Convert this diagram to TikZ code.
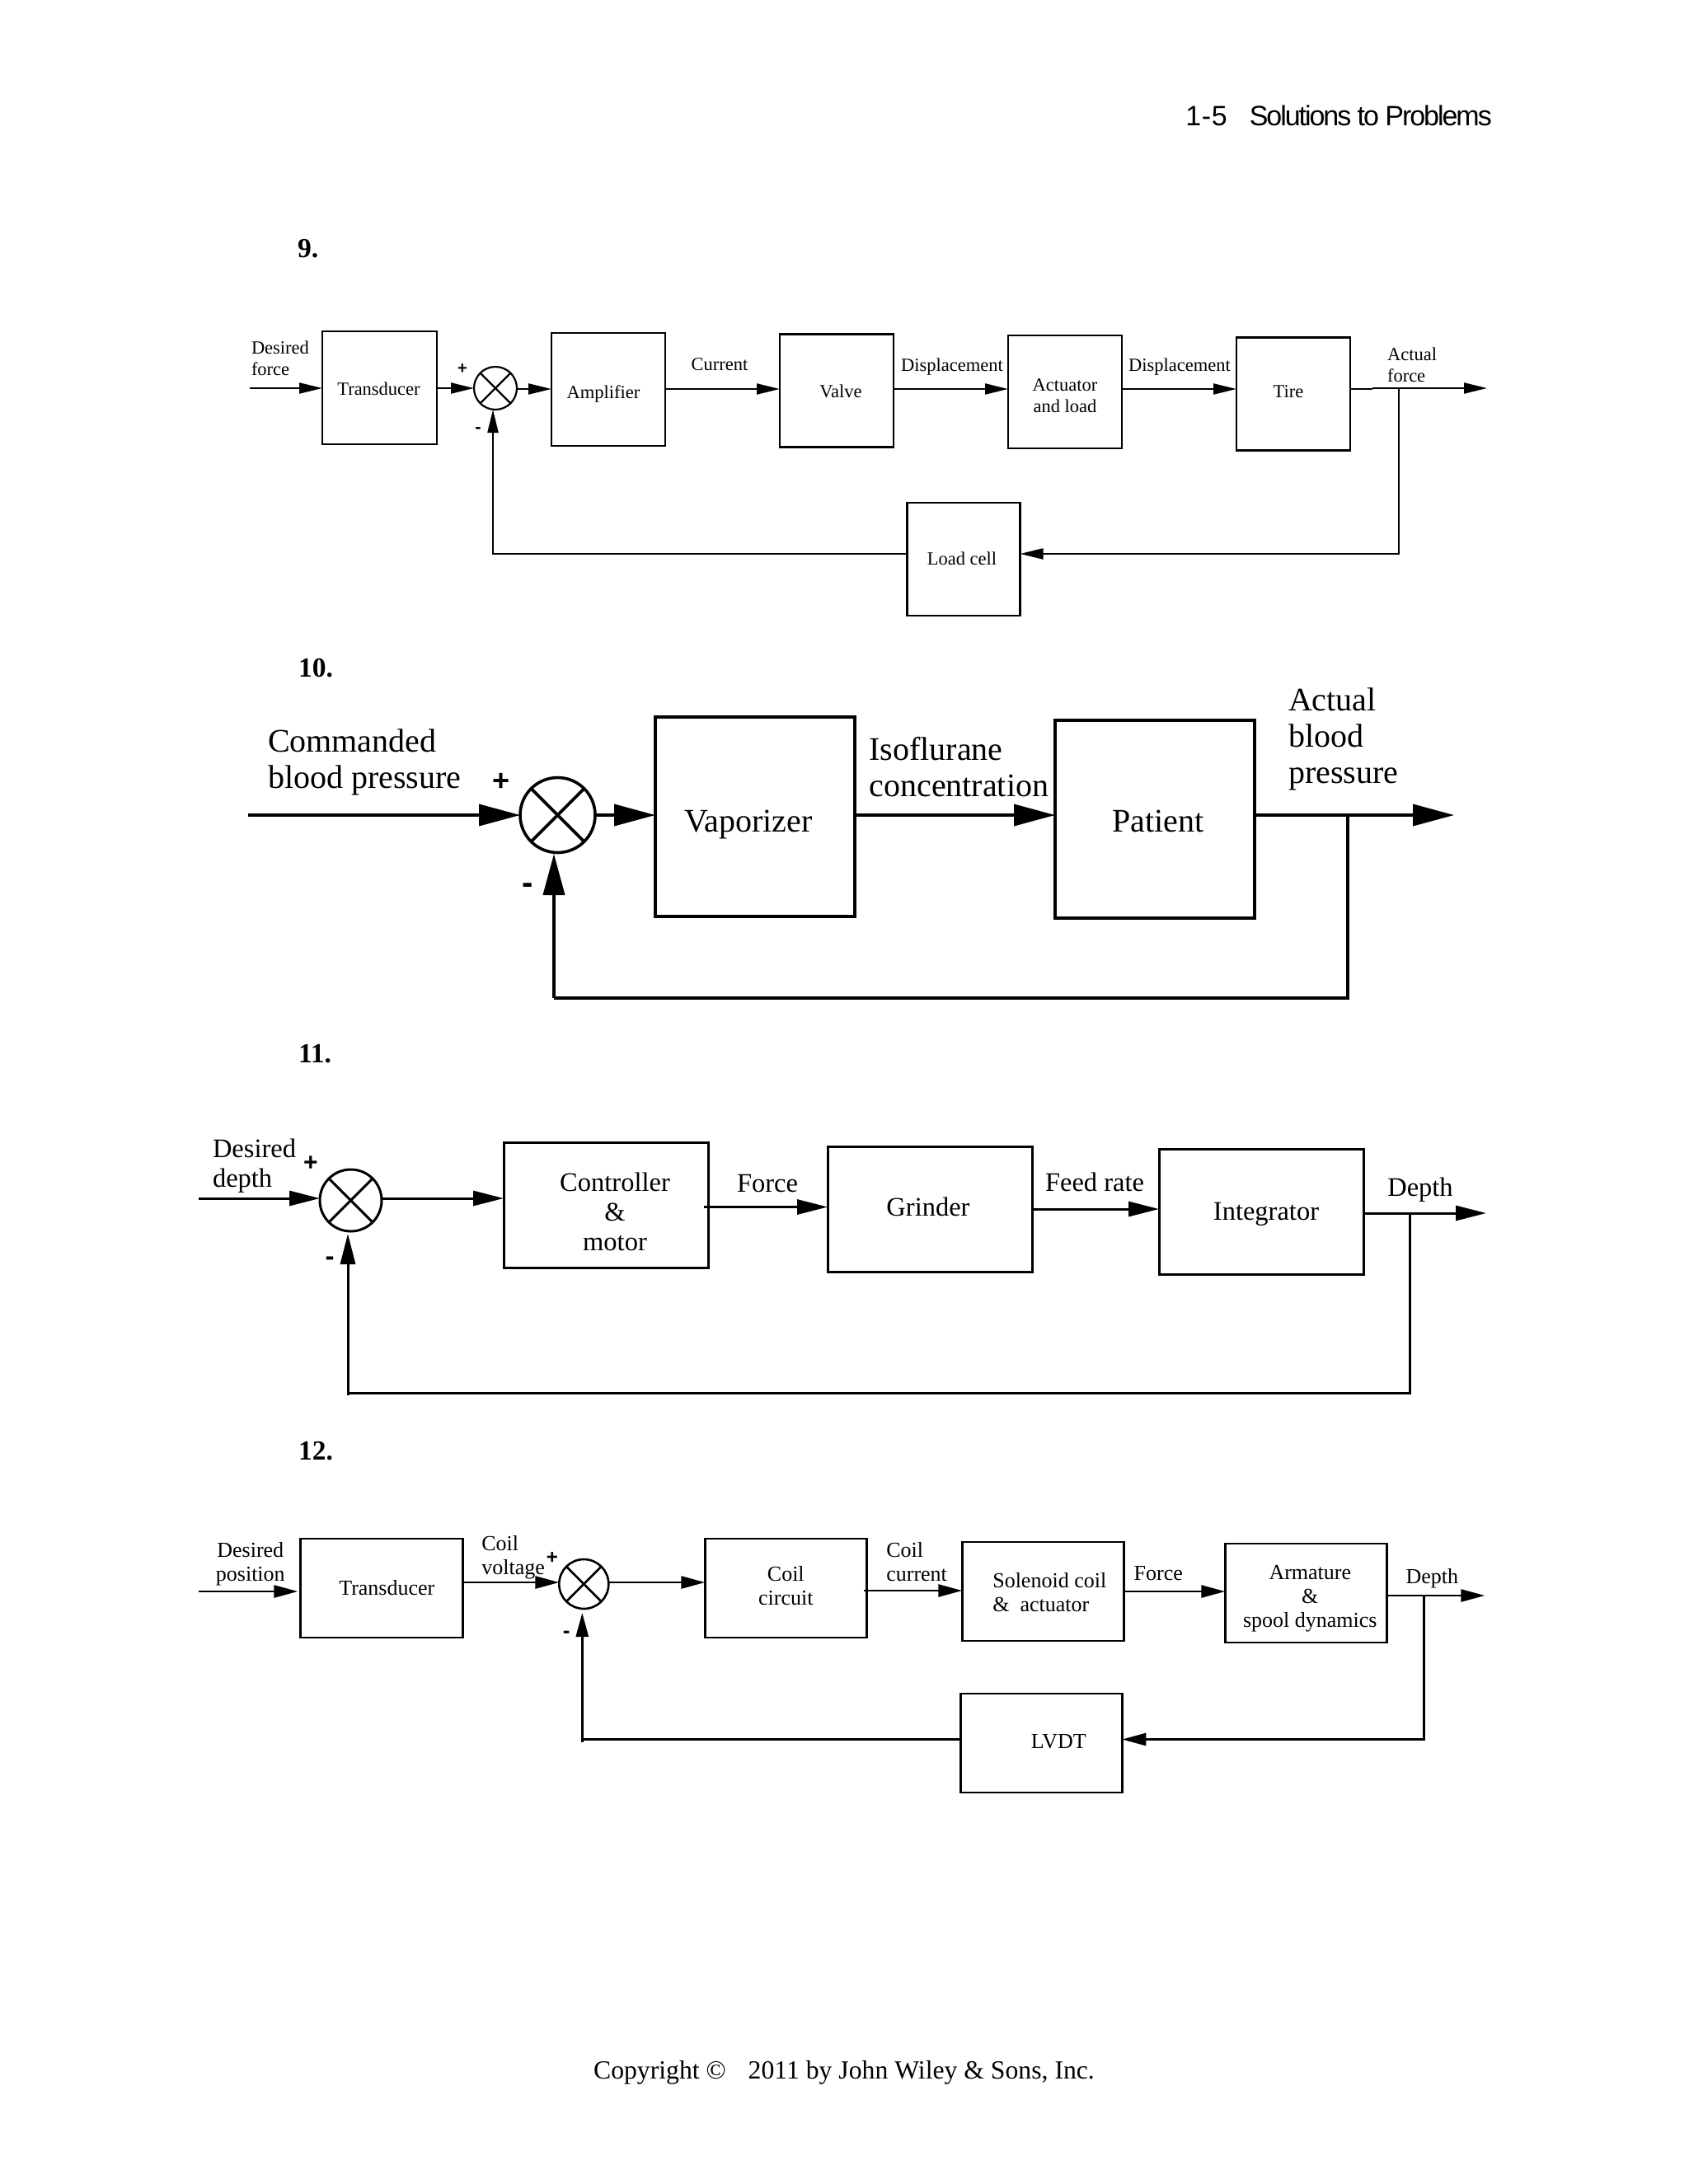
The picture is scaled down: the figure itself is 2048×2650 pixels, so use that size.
\documentclass[tikz,border=0pt]{standalone}
\usepackage{fontspec}
\setmainfont{Liberation Serif}
\newfontfamily\hdrfont{Liberation Sans}[LetterSpace=-6]
\newfontfamily\sgnfont{Liberation Sans}[BoldFont={Liberation Sans Bold}]
\usetikzlibrary{arrows.meta}
\newcommand\mystrut{\vrule width 0pt height .7\baselineskip depth .3\baselineskip}
\tikzset{
  box/.style={draw,rectangle,inner sep=0pt,outer sep=0pt},
  sum/.style={draw,circle,inner sep=0pt,outer sep=0pt},
  lbl/.style={inner sep=0pt,outer sep=0pt,execute at begin node=\mystrut,execute at end node=\mystrut},
  ctr/.style={align=center},
  lft/.style={align=left,anchor=west},
  ta/.style={lbl,font=\fontsize{22.5}{26}\selectfont,yshift=-2.2pt},
  tb/.style={lbl,font=\fontsize{40}{44}\selectfont,yshift=-4.1pt},
  tc/.style={lbl,font=\fontsize{32.5}{36.3}\selectfont,yshift=-3.5pt},
  td/.style={lbl,font=\fontsize{26}{29}\selectfont,yshift=-2.8pt},
  sgn/.style={inner sep=0pt,outer sep=0pt,font=\fontsize{#1}{#1}\selectfont\sgnfont\bfseries},
  sec/.style={inner sep=0pt,outer sep=0pt,anchor=west,font=\fontsize{33.5}{36}\selectfont\bfseries},
  wa/.style={line width=2.2pt},
  wb/.style={line width=3.6pt},
  wc/.style={line width=3pt},
  wd/.style={line width=2.6pt},
  aa/.style={wa,-{Triangle[length=28pt,width=13pt]}},
  ab/.style={wb,-{Triangle[length=50pt,width=26pt]}},
  ac/.style={wc,-{Triangle[length=37pt,width=18pt]}},
  ad/.style={wd,-{Triangle[length=29pt,width=15pt]}},
}
\begin{document}
\begin{tikzpicture}[x=1pt,y=-1pt]
\useasboundingbox (0,0) rectangle (2048,2650);
% header, footer
\node[inner sep=0pt,anchor=base east,font=\fontsize{34}{38}\selectfont\hdrfont] (head) at (1810,152) {1\kern.7pt-\kern.7pt5\hspace{27pt}Solutions to Problems};
\node[inner sep=0pt,anchor=base,font=\fontsize{31.7}{36}\selectfont] (foot) at (1024,2522) {Copyright ©\hspace{27pt}2011 by John Wiley \& Sons, Inc.};
% section numbers
\node[sec] (n9) at (361,302) {9.};
\node[sec] (n10) at (362,811) {10.};
\node[sec] (n11) at (362,1279) {11.};
\node[sec] (n12) at (362,1761) {12.};

% ---------- problem 9
\begin{scope}[xshift=1pt]
\node[box,wa,minimum width=139pt,minimum height=137pt] (tr9) at (459.5,470.5) {};
\node[box,wa,minimum width=138pt,minimum height=137pt] (am9) at (737,472.5) {};
\node[box,wa,minimum width=138pt,minimum height=137pt] (va9) at (1014,474) {};
\node[box,wa,minimum width=138pt,minimum height=137pt] (ac9) at (1291,475.5) {};
\node[box,wa,minimum width=138pt,minimum height=137pt] (ti9) at (1568,478) {};
\node[box,wa,minimum width=137pt,minimum height=137pt] (lc9) at (1168,678.5) {};
\node[sum,wa,minimum size=52pt] (s9) at (600,471) {};
\draw[wa] (s9.45)--(s9.225) (s9.135)--(s9.315);
\coordinate (in9) at (302,471);
\coordinate (y9) at (0,472);
\coordinate (out9) at (1803,471);
\coordinate (j9) at (1696,471);
\coordinate (jt9) at (1664,471);
\coordinate (c9a) at (1696,672);
\coordinate (c9b) at (597,672);
\coordinate (t9b) at (597,497);
\draw[aa] (in9) -- (tr9.west |- in9);
\draw[aa] (tr9.east |- in9) -- (s9.west);
\draw[aa] (s9.east |- y9) -- (am9.west |- y9);
\draw[aa] (am9.east |- y9) -- (va9.west |- y9);
\draw[aa] (va9.east |- y9) -- (ac9.west |- y9);
\draw[aa] (ac9.east |- y9) -- (ti9.west |- y9);
\draw[wa] (ti9.east |- y9) -- (jt9 |- y9);
\draw[aa] (jt9) -- (out9);
\draw[aa] (j9) -- (c9a) -- (lc9.east |- c9a);
\draw[aa] (lc9.west |- c9b) -- (c9b) -- (t9b);
\node[ta,lft] (l9a) at (304,436) {Desired\\force};
\node[ta,ctr] (l9b) at (458.5,472) {Transducer};
\node[sgn=20] (l9c) at (560,448) {+};
\node[sgn=22] (l9d) at (579,522) {-};
\node[ta,ctr] (l9e) at (731,476) {Amplifier};
\node[ta,ctr] (l9f) at (872,442) {Current};
\node[ta,ctr] (l9g) at (1019,475) {Valve};
\node[ta,ctr] (l9h) at (1154,443) {Displacement};
\node[ta,ctr] (l9i) at (1291,482) {Actuator\\and load};
\node[ta,ctr] (l9j) at (1430,443) {Displacement};
\node[ta,ctr] (l9k) at (1562,475) {Tire};
\node[ta,lft] (l9l) at (1682,444) {Actual\\force};
\node[ta,ctr] (l9m) at (1166,678) {Load cell};
\end{scope}

% ---------- problem 10
\begin{scope}[xshift=1pt]
\node[box,wb,minimum width=242pt,minimum height=242pt] (va10) at (915,991) {};
\node[box,wb,minimum width=242pt,minimum height=240pt] (pa10) at (1400,994) {};
\node[sum,wb,minimum size=91pt] (s10) at (675.5,989) {};
\draw[wb] (s10.45)--(s10.225) (s10.135)--(s10.315);
\coordinate (in10) at (300,989);
\coordinate (out10) at (1763,989);
\coordinate (j10) at (1634,989);
\coordinate (c10a) at (1634,1211);
\coordinate (c10b) at (671,1211);
\coordinate (t10b) at (671,1036);
\draw[ab] (in10) -- (s10.west);
\draw[ab] (s10.east) -- (va10.west |- s10.east);
\draw[ab] (va10.east |- s10.east) -- (pa10.west |- s10.east);
\draw[ab] (pa10.east |- out10) -- (out10);
\draw[wb] (j10) -- (c10a) -- (c10b);
\draw[ab] (c10b) -- (t10b);
\node[tb,lft] (l10a) at (324,923) {Commanded\\blood pressure};
\node[sgn=36] (l10b) at (607,949) {+};
\node[sgn=40] (l10c) at (639,1078) {-};
\node[tb,ctr] (l10d) at (907,997) {Vaporizer};
\node[tb,lft] (l10e) at (1053.5,932.5) {Isoflurane\\concentration};
\node[tb,ctr] (l10f) at (1404,997) {Patient};
\node[tb,lft] (l10g) at (1562,895.5) {Actual\\blood\\pressure};
\end{scope}

% ---------- problem 11
\node[box,wc,minimum width=248pt,minimum height=152pt] (co11) at (735,1462) {};
\node[box,wc,minimum width=248pt,minimum height=152pt] (gr11) at (1128,1467) {};
\node[box,wc,minimum width=248pt,minimum height=152pt] (in11b) at (1530,1470) {};
\node[sum,wc,minimum size=75pt] (s11) at (425.5,1456.5) {};
\draw[wc] (s11.45)--(s11.225) (s11.135)--(s11.315);
\coordinate (in11) at (241,1454);
\coordinate (y11a) at (854,1464.5);
\coordinate (y11b) at (0,1467);
\coordinate (out11) at (1803,1472);
\coordinate (j11) at (1710,1472);
\coordinate (c11a) at (1710,1690);
\coordinate (c11b) at (422,1690);
\coordinate (c11s) at (422,1693);
\coordinate (t11b) at (422,1497);
\draw[ac] (in11) -- (s11.west |- in11);
\draw[ac] (s11.east |- in11) -- (co11.west |- in11);
\draw[ac] (y11a) -- (gr11.west |- y11a);
\draw[ac] (gr11.east |- y11b) -- (in11b.west |- y11b);
\draw[ac] (in11b.east |- out11) -- (out11);
\draw[wc] (j11) -- (c11a) -- (c11b);
\draw[ac] (c11s) -- (t11b);
\node[tc,lft] (l11a) at (258,1413.5) {Desired\\depth};
\node[sgn=30] (l11b) at (377,1412) {+};
\node[sgn=33] (l11c) at (400,1530) {-};
\node[tc,ctr] (l11d) at (746,1472) {Controller\\\&\\motor};
\node[tc,ctr] (l11e) at (931,1436) {Force};
\node[tc,ctr] (l11f) at (1126,1465) {Grinder};
\node[tc,ctr] (l11g) at (1328,1435) {Feed rate};
\node[tc,ctr] (l11h) at (1536,1470) {Integrator};
\node[tc,ctr] (l11i) at (1723,1441) {Depth};

% ---------- problem 12
\begin{scope}[xshift=0.3pt]
\node[box,wd,minimum width=197pt,minimum height=120pt] (tr12) at (462.5,1927) {};
\node[box,wd,minimum width=196pt,minimum height=120pt] (cc12) at (953,1927) {};
\node[box,wd,minimum width=196pt,minimum height=120pt] (so12) at (1265,1931) {};
\node[box,wd,minimum width=196pt,minimum height=120pt] (ar12) at (1584,1933) {};
\node[box,wd,minimum width=196pt,minimum height=120pt] (lv12) at (1263,2115) {};
\node[sum,wd,minimum size=60pt] (s12) at (708,1922) {};
\draw[wd] (s12.45)--(s12.225) (s12.135)--(s12.315);
\coordinate (in12) at (241,1931);
\coordinate (t12a) at (361,1931);
\coordinate (y12a) at (0,1920);
\coordinate (y12b) at (1048,1930);
\coordinate (y12c) at (0,1931);
\coordinate (out12) at (1801,1936);
\coordinate (j12) at (1727,1936);
\coordinate (c12a) at (1727,2110.5);
\coordinate (c12b) at (706,2110.5);
\coordinate (c12s) at (706,2113.5);
\coordinate (t12b) at (706,1957);
\draw[ad] (in12) -- (t12a);
\draw[ad] (tr12.east |- y12a) -- (s12.west |- y12a);
\draw[ad] (s12.east |- y12a) -- (cc12.west |- y12a);
\draw[ad] (y12b) -- (so12.west |- y12b);
\draw[ad] (so12.east |- y12c) -- (ar12.west |- y12c);
\draw[ad] (ar12.east |- out12) -- (out12);
\draw[ad] (j12) -- (c12a) -- (lv12.east |- c12a);
\draw[wd] (lv12.west |- c12b) -- (c12b);
\draw[ad] (c12s) -- (t12b);
\node[td,ctr] (l12a) at (303.5,1896.5) {Desired\\position};
\node[td,ctr] (l12b) at (469,1927) {Transducer};
\node[td,lft] (l12c) at (584,1889) {Coil\\voltage};
\node[sgn=24] (l12d) at (669.5,1890) {+};
\node[sgn=26] (l12e) at (687,1983) {-};
\node[td,ctr] (l12f) at (953,1926) {Coil\\circuit};
\node[td,lft] (l12g) at (1075,1897) {Coil\\current};
\node[td,lft] (l12h) at (1204,1934) {Solenoid coil\\\&\hspace{0.5em}actuator};
\node[td,ctr] (l12i) at (1405,1908.5) {Force};
\node[td,ctr] (l12j) at (1589,1938.5) {Armature\\\&\\spool dynamics};
\node[td,ctr] (l12k) at (1737,1912.5) {Depth};
\node[td,ctr] (l12l) at (1284,2113) {LVDT};
\end{scope}
\end{tikzpicture}
\end{document}
